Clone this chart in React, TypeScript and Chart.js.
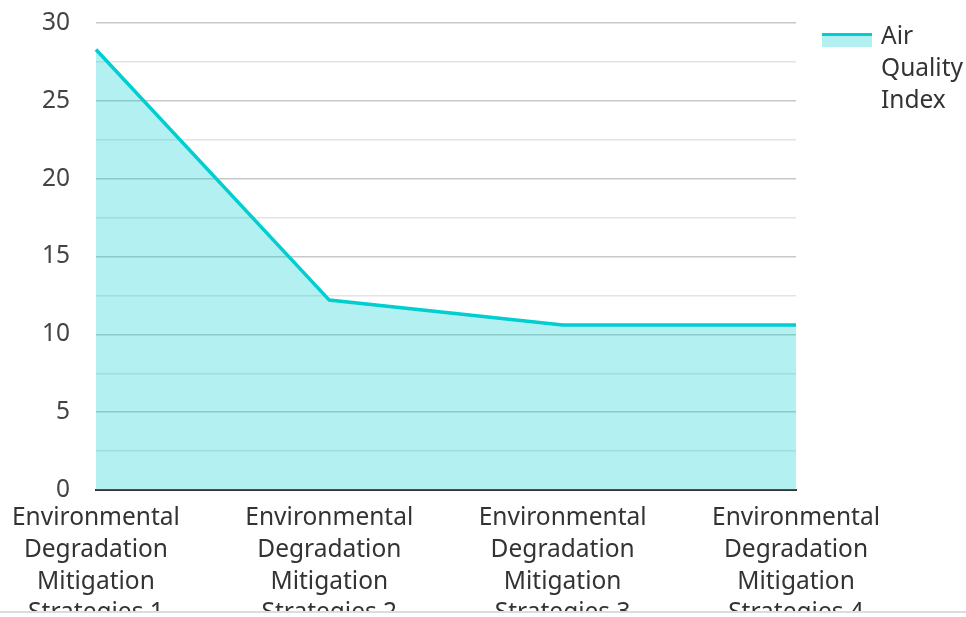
import React, { useEffect, useRef } from "react";
import { Chart, registerables } from "chart.js";

Chart.register(...registerables);

const categories = [
  "Environmental Degradation Mitigation Strategies 1",
  "Environmental Degradation Mitigation Strategies 2",
  "Environmental Degradation Mitigation Strategies 3",
  "Environmental Degradation Mitigation Strategies 4",
];
const seriesLabel = "Air Quality Index";
const airQuality = [28.3, 12.2, 10.6, 10.6];
const yTicks = [0, 5, 10, 15, 20, 25, 30];

const LINE = "#00CED1";
const FILL = "rgba(0,206,209,0.3)";
const FONT = "'Noto Sans', 'Open Sans', sans-serif";
const FSIZE = 24.5;

function wrap(text: string, max: number): string[] {
  const words = text.split(" ");
  const lines: string[] = [];
  let cur = "";
  for (const w of words) {
    const t = cur ? cur + " " + w : w;
    if (t.length > max && cur) {
      lines.push(cur);
      cur = w;
    } else cur = t;
  }
  if (cur) lines.push(cur);
  return lines;
}

const legendPlugin = {
  id: "sideLegend",
  afterDraw(chart: any) {
    const ctx = chart.ctx;
    const ds = chart.data.datasets[0];
    const x = chart.chartArea.right + 26;
    const y = 33;
    ctx.save();
    ctx.fillStyle = ds.backgroundColor;
    ctx.fillRect(x, y, 50, 14);
    ctx.fillStyle = ds.borderColor;
    ctx.fillRect(x, y, 50, 3);
    ctx.font = `${FSIZE}px ${FONT}`;
    ctx.fillStyle = "#333";
    ctx.textBaseline = "middle";
    ctx.textAlign = "left";
    const words = String(ds.label).split(" ");
    words.forEach((w: string, i: number) => {
      ctx.fillText(w, x + 59, 37 + i * 32);
    });
    ctx.restore();
  },
};

export default function App() {
  const ref = useRef<HTMLCanvasElement | null>(null);
  useEffect(() => {
    document.body.style.margin = "0";
    if (!ref.current) return;
    const chart = new Chart(ref.current, {
      type: "line",
      data: {
        labels: categories,
        datasets: [
          {
            label: seriesLabel,
            data: airQuality,
            borderColor: LINE,
            backgroundColor: FILL,
            borderWidth: 3.5,
            fill: "origin",
            tension: 0,
            pointRadius: 0,
            pointHoverRadius: 0,
          },
        ],
      },
      options: {
        animation: false,
        responsive: false,
        maintainAspectRatio: false,
        layout: { padding: { left: 0, right: 170, top: 23, bottom: 0 } },
        plugins: {
          legend: { display: false },
          tooltip: { enabled: false },
        },
        scales: {
          x: {
            offset: false,
            grid: { display: false, drawTicks: false },
            border: { display: true, color: "#333", width: 2 },
            ticks: {
              color: "#333",
              font: { family: FONT, size: FSIZE, lineHeight: 1.3 },
              padding: 12,
              maxRotation: 0,
              minRotation: 0,
              autoSkip: false,
              callback: (_v: any, i: number) => wrap(categories[i], 14),
            },
            afterFit: (s: any) => {
              s.height = 121;
            },
          },
          y: {
            min: 0,
            max: 30,
            grid: {
              drawTicks: false,
              color: (c: any) =>
                c.tick && c.tick.value % 5 === 0 ? "#c8c8c8" : "#e4e4e4",
              lineWidth: 1.5,
            },
            border: { display: false },
            ticks: {
              stepSize: 2.5,
              color: "#444",
              font: { family: FONT, size: FSIZE },
              padding: 26,
              callback: (v: any) => (yTicks.includes(Number(v)) ? String(v) : ""),
            },
            afterFit: (s: any) => {
              s.width = 94;
              s.paddingTop = 0;
              s.paddingBottom = 0;
            },
          },
        },
      },
      plugins: [legendPlugin],
    });
    return () => chart.destroy();
  }, []);
  return (
    <div style={{ width: 966, height: 617, background: "#fff" }}>
      <div style={{ width: 966, height: 611, borderBottom: "2px solid #dcdcdc" }}>
        <canvas ref={ref} width={966} height={611} style={{ display: "block" }} />
      </div>
    </div>
  );
}
